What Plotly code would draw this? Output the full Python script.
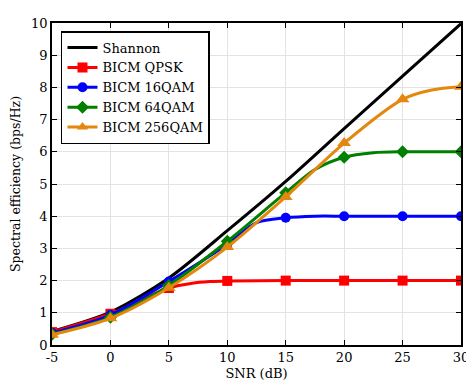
import plotly.graph_objects as go

# Marker points (every 5 dB)
snr_marks = [-5, 0, 5, 10, 15, 20, 25, 30]
snr_ticktext = ["-5", "0", "5", "10", "15", "20", "25", "30"]
shannon = [0.42, 1.02, 2.08, 3.55, 5.08, 6.72, 8.35, 9.98]
qpsk = [0.40, 0.97, 1.77, 1.99, 2.00, 2.00, 2.00, 2.00]
qam16 = [0.37, 0.93, 1.97, 3.13, 3.95, 4.00, 4.00, 4.00]
qam64 = [0.33, 0.86, 1.85, 3.22, 4.73, 5.83, 6.00, 6.00]
qam256 = [0.32, 0.83, 1.78, 3.04, 4.60, 6.27, 7.63, 8.02]

# Extra points (knees between markers)
qpsk_extra_x = [7, 8.5]
qpsk_extra_y = [1.92, 1.97]
qam16_extra_x = [12.5, 17.5]
qam16_extra_y = [3.80, 4.00]
qam64_extra_x = [17.5, 22.5]
qam64_extra_y = [5.45, 5.97]
qam256_extra_x = [27.5]
qam256_extra_y = [7.92]

names = ["Shannon", "BICM QPSK", "BICM 16QAM", "BICM 64QAM", "BICM 256QAM"]
colors = ["#000000", "#FF0000", "#0000FF", "#008000", "#E4870E"]
symbols = [None, "square", "circle", "diamond", "triangle-up"]
FONT = "DejaVu Serif"

series = [
    (shannon, [], []),
    (qpsk, qpsk_extra_x, qpsk_extra_y),
    (qam16, qam16_extra_x, qam16_extra_y),
    (qam64, qam64_extra_x, qam64_extra_y),
    (qam256, qam256_extra_x, qam256_extra_y),
]

fig = go.Figure()
for i, (vals, ex, ey) in enumerate(series):
    pts = sorted(list(zip(snr_marks, vals)) + list(zip(ex, ey)))
    fig.add_trace(go.Scatter(
        x=[p[0] for p in pts], y=[p[1] for p in pts], mode="lines",
        line=dict(color=colors[i], width=3, shape="spline", smoothing=0.8),
        showlegend=False, hoverinfo="skip"))
    if symbols[i] is not None:
        fig.add_trace(go.Scatter(
            x=snr_marks, y=vals, mode="markers",
            marker=dict(color=colors[i], symbol=symbols[i],
                        size=10 if symbols[i] != "triangle-up" else 12,
                        line=dict(width=0)),
            showlegend=False))

# legend entries
for i in range(5):
    if symbols[i] is None:
        fig.add_trace(go.Scatter(x=[None], y=[None], mode="lines", name=names[i],
                                 line=dict(color=colors[i], width=3)))
    else:
        fig.add_trace(go.Scatter(x=[None], y=[None], mode="lines+markers", name=names[i],
                                 line=dict(color=colors[i], width=3),
                                 marker=dict(color=colors[i], symbol=symbols[i], size=10)))

axis_common = dict(
    showline=True, linecolor="black", linewidth=1.5, mirror="ticks",
    ticks="inside", ticklen=5, tickcolor="black", automargin=False,
    showgrid=True, gridcolor="#e3e3e3", gridwidth=1, zeroline=False,
    tickfont=dict(family=FONT, size=13, color="black"),
)

# page body adds an 8px offset, so the figure is sized to fit the window
fig.update_layout(
    width=466, height=379,
    margin=dict(l=44, r=13, t=15, b=42),
    paper_bgcolor="white", plot_bgcolor="white",
    font=dict(family=FONT, size=13, color="black"),
    xaxis=dict(range=[-5, 30], tickvals=snr_marks, ticktext=snr_ticktext,
               title=dict(text="SNR (dB)", standoff=5, font=dict(size=13)), **axis_common),
    yaxis=dict(range=[0, 10], tickvals=list(range(11)),
               title=dict(text="Spectral efficiency (bps/Hz)", standoff=9, font=dict(size=12.5)),
               **axis_common),
    legend=dict(x=0.022, y=0.975, xanchor="left", yanchor="top",
                bgcolor="white", bordercolor="black", borderwidth=1.5,
                font=dict(family=FONT, size=13), tracegroupgap=0,
                itemwidth=30),
)

fig.write_html("out.html")
